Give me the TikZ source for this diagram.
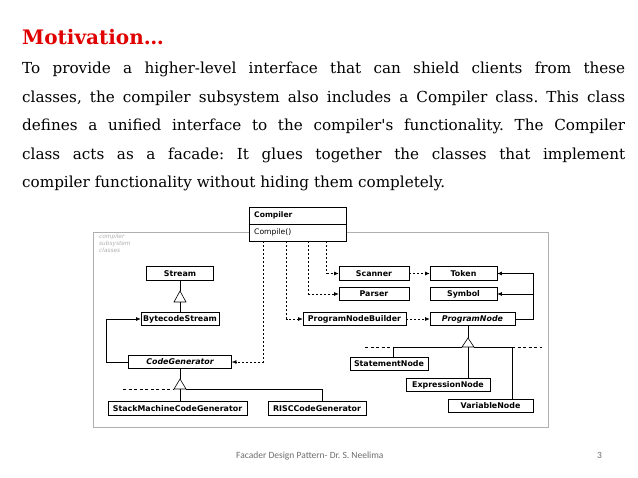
\documentclass[tikz,border=0pt]{standalone}
\usepackage{fontspec}
\setmainfont{DejaVu Serif}
\newfontfamily\plainserif{DejaVu Serif}[Ligatures=ResetAll]
\newfontfamily\dejab{DejaVu Sans}
\newfontfamily\footfont{Carlito}
\usetikzlibrary{arrows.meta}
\definecolor{titlered}{RGB}{225,0,0}
\definecolor{framegray}{RGB}{175,175,175}
\definecolor{footgray}{RGB}{110,110,110}
\frenchspacing
\newcommand{\jline}[1]{\makebox[603pt][s]{\spaceskip=3.6pt plus 30pt minus 1pt #1}}
\begin{document}
\begin{tikzpicture}[x=1pt,y=-1pt,
  cls/.style={draw, line width=0.6pt, fill=white, inner sep=0pt, minimum height=13.5pt,
    font=\dejab\bfseries\fontsize{7.9}{8}\selectfont},
  icls/.style={cls, font=\dejab\bfseries\itshape\fontsize{7.9}{8}\selectfont},
  assoc/.style={line width=0.6pt, -{Latex[length=4.5pt,width=3.8pt]}},
  dep/.style={assoc, dash pattern=on 2pt off 2pt},
  plain/.style={line width=0.6pt},
  dline/.style={line width=0.6pt, dash pattern=on 3pt off 2.5pt},
  body/.style={anchor=base west, inner sep=0pt, font=\fontsize{15.2}{17}\selectfont}
]
\useasboundingbox (0,0) rectangle (638,478);
\fill[white] (0,0) rectangle (638,478);

% title and text
\node[anchor=base west, inner sep=0pt, text=titlered, font=\bfseries\fontsize{20}{22}\selectfont] (title) at (22,45) {Motivation…};
\node[body] (l1) at (22,74) {\jline{To provide a higher-level interface that can shield clients from these}};
\node[body] (l2) at (22,102.5) {\jline{classes, the compiler subsystem also includes a Compiler class. This class}};
\node[body] (l3) at (22,131) {\jline{defines a unified interface to the compiler{\plainserif'}s functionality. The Compiler}};
\node[body] (l4) at (22,159.5) {\jline{class acts as a facade: It glues together the classes that implement}};
\node[body] (l5) at (22,188) {compiler functionality without hiding them completely.};

% subsystem frame
\draw[framegray, line width=0.8pt] (93,232) rectangle (548,427);
\node[anchor=north west, inner sep=0pt, align=left, text=framegray,
  font=\dejab\itshape\fontsize{5.8}{6.8}\selectfont] (lab) at (99,234) {compiler\\subsystem\\classes};

% Compiler class
\node[draw, line width=0.6pt, fill=white, minimum width=97pt, minimum height=34pt, inner sep=0pt] (comp) at (297.5,224) {};
\draw[line width=0.6pt] (comp.west) -- (comp.east);
\node[anchor=west, inner sep=0pt, font=\dejab\bfseries\fontsize{7.6}{8}\selectfont] (compn) at (254,215.5) {Compiler};
\node[anchor=west, inner sep=0pt, font=\dejab\fontsize{7.6}{8}\selectfont] (compo) at (254,232.5) {Compile()};

% classes
\node[cls, minimum width=67pt] (stream) at (180,273.5) {Stream};
\node[cls, minimum width=78pt] (bcs) at (180,319) {BytecodeStream};
\node[icls, minimum width=103pt] (cg) at (180,362) {CodeGenerator};
\node[cls, minimum width=139pt] (smcg) at (177.5,408.5) {StackMachineCodeGenerator};
\node[cls, minimum width=98pt] (risc) at (317,408.5) {RISCCodeGenerator};
\node[cls, minimum width=70pt] (scanner) at (374,273.5) {Scanner};
\node[cls, minimum width=70pt] (parser) at (374,294) {Parser};
\node[cls, minimum width=67pt] (token) at (463.5,273.5) {Token};
\node[cls, minimum width=67pt] (symbol) at (463.5,294) {Symbol};
\node[cls, minimum width=103pt] (pnb) at (354.5,319) {ProgramNodeBuilder};
\node[icls, minimum width=85pt] (pn) at (472.5,319) {ProgramNode};
\node[cls, minimum width=78pt] (stmt) at (389,364) {StatementNode};
\node[cls, minimum width=84pt] (expr) at (448,385) {ExpressionNode};
\node[cls, minimum width=85pt] (var) at (490.5,406) {VariableNode};

% dependencies from Compiler
\draw[dep] (comp.south west) ++(15,0) |- (cg.east);
\draw[dep] (comp.south west) ++(38,0) |- (pnb.west);
\draw[dep] (comp.south west) ++(60,0) |- (parser.west);
\draw[dep] (comp.south west) ++(78,0) |- (scanner.west);
\draw[dep] (scanner.east) -- (token.west);
\draw[dep] (pnb.east) -- (pn.west);

% associations
\draw[assoc] (pn.east) -- ++(18,0) |- (token.east);
\draw[assoc] (pn.east) ++(18,0) |- (symbol.east);
\draw[assoc] (cg.west) -- ++(-22,0) |- (bcs.west);

% inheritance Stream
\coordinate (sa) at (180,291);
\draw[plain] (stream.south) -- (sa);
\draw[plain] (sa) -- ++(6,11) -- ++(-12,0) -- cycle;
\draw[plain] (bcs.north) -- ++(0,-10);

% inheritance CodeGenerator
\coordinate (ca) at (180,379);
\draw[plain] (cg.south) -- (ca);
\draw[plain] (ca) -- ++(6,10) -- ++(-12,0) -- cycle;
\draw[dline] (123,389) -- (174,389);
\draw[plain] (186,389) -- (322,389) -- (risc.north -| 322,0);
\draw[plain] (180,389) -- (smcg.north -| 180,0);

% inheritance ProgramNode
\coordinate (pa) at (468,338);
\draw[plain] (pn.south -| pa) -- (pa);
\draw[plain] (pa) -- ++(6,9) -- ++(-12,0) -- cycle;
\draw[dline] (365,347) -- (393,347);
\draw[plain] (393,347) -- (462,347);
\draw[plain] (474,347) -- (512,347);
\draw[dline] (512,347) -- (542,347);
\draw[plain] (393,347) -- (stmt.north -| 393,0);
\draw[plain] (468,347) -- (expr.north -| 468,0);
\draw[plain] (512,347) -- (var.north -| 512,0);

% footer
\node[anchor=base west, inner sep=0pt, text=footgray, font=\footfont\fontsize{9.5}{11}\selectfont] (foot) at (236,459) {Facader Design Pattern- Dr. S. Neelima};
\node[anchor=base west, inner sep=0pt, text=footgray, font=\footfont\fontsize{9.5}{11}\selectfont] (pg) at (597,459) {3};
\end{tikzpicture}
\end{document}
